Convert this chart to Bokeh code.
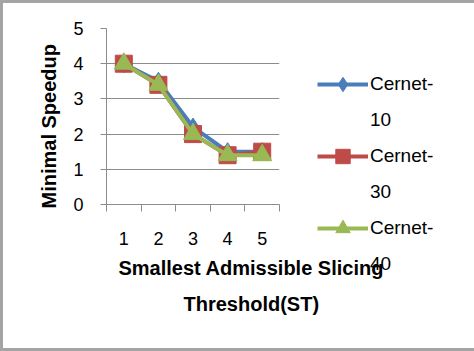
from bokeh.plotting import figure
from bokeh.models import FixedTicker, Legend, LegendItem, Title, Range1d
from bokeh.embed import file_html
from bokeh.resources import INLINE

# ---- data ----
categories = ["1", "2", "3", "4", "5"]
cernet_10 = [4.0, 3.5, 2.2, 1.5, 1.5]
cernet_30 = [4.0, 3.4, 2.0, 1.4, 1.5]
cernet_40 = [4.0, 3.4, 2.0, 1.4, 1.4]
series_names = ["Cernet-10", "Cernet-30", "Cernet-40"]
y_ticks = [0, 1, 2, 3, 4, 5]
x_title_lines = ["Smallest Admissible Slicing", "Threshold(ST)"]
y_title = "Minimal Speedup"

# ---- styles ----
FONT = "Liberation Sans"
BLUE = "#4A7EBB"
RED = "#BE4B48"
GREEN = "#98B954"
GRID = "#8C8C8C"

x = list(range(1, len(categories) + 1))

p = figure(frame_width=173, frame_height=176,
           x_range=Range1d(0.5, len(categories) + 0.5),
           y_range=Range1d(y_ticks[0], y_ticks[-1]),
           output_backend="svg", toolbar_location=None,
           min_border_left=103, min_border_right=192,
           min_border_top=25, min_border_bottom=144)
p.styles = {"border": "3px solid #a4a4a4", "box-sizing": "content-box"}
p.outline_line_color = None
p.background_fill_color = "white"
p.border_fill_color = "white"

# axes
p.xaxis.ticker = FixedTicker(ticks=x, minor_ticks=[v + 0.5 for v in range(0, len(categories) + 1)])
p.xaxis.major_label_overrides = {i: c for i, c in zip(x, categories)}
p.xaxis.major_tick_out = 0
p.xaxis.major_tick_in = 0
p.xaxis.minor_tick_out = 7
p.xaxis.minor_tick_in = 0
p.xaxis.minor_tick_line_color = GRID
p.xaxis.axis_line_color = GRID
p.xaxis.major_label_standoff = 20
p.xaxis.major_label_text_font = FONT
p.xaxis.major_label_text_font_size = "18px"
p.xaxis.major_label_text_color = "black"

p.yaxis.ticker = FixedTicker(ticks=y_ticks, minor_ticks=[])
p.yaxis.major_tick_out = 6
p.yaxis.major_tick_in = 0
p.yaxis.major_tick_line_color = GRID
p.yaxis.axis_line_color = GRID
p.yaxis.major_label_standoff = 17
p.yaxis.major_label_text_font = FONT
p.yaxis.major_label_text_font_size = "18px"
p.yaxis.major_label_text_color = "black"

p.xgrid.grid_line_color = None
p.ygrid.ticker = FixedTicker(ticks=y_ticks)
p.ygrid.grid_line_color = GRID
p.ygrid.grid_line_width = 1

# series
r1 = p.line(x, cernet_10, line_color=BLUE, line_width=4)
m1 = p.scatter(x, cernet_10, marker="diamond", size=18, fill_color=BLUE, line_color=BLUE)
r2 = p.line(x, cernet_30, line_color=RED, line_width=4)
m2 = p.scatter(x, cernet_30, marker="square", size=17, fill_color=RED, line_color=RED)
r3 = p.line(x, cernet_40, line_color=GREEN, line_width=4)
m3 = p.scatter(x, cernet_40, marker="triangle", size=19, fill_color=GREEN, line_color=GREEN)

# legend: each name wraps after the hyphen, like the reference
items = []
for name, rs in zip(series_names, [[r1, m1], [r2, m2], [r3, m3]]):
    head, tail = name.split("-")
    items.append(LegendItem(label=head + "-", renderers=rs))
    items.append(LegendItem(label=tail, renderers=[]))

legend = Legend(items=items, location="top_left", border_line_alpha=0,
                background_fill_alpha=0, padding=0, margin=38, spacing=0,
                glyph_width=51, glyph_height=36, label_height=36,
                label_standoff=2, label_text_font=FONT, label_text_font_size="19px",
                label_text_color="black")
p.add_layout(legend, "right")

# x-axis title lines (offsets centre them under the plot + legend gap)
for txt, off, sto in zip(x_title_lines, [12, 77], [15, 8]):
    p.add_layout(Title(text=txt, align="left", offset=off, standoff=sto,
                       text_font=FONT, text_font_size="20px", text_font_style="bold",
                       text_color="black"), "below")

# y-axis title
p.add_layout(Title(text=y_title, align="left", offset=-4, standoff=19,
                   vertical_align="middle",
                   text_font=FONT, text_font_size="20px", text_font_style="bold",
                   text_color="black"), "left")

open("out.html", "w").write(file_html(p, INLINE))
